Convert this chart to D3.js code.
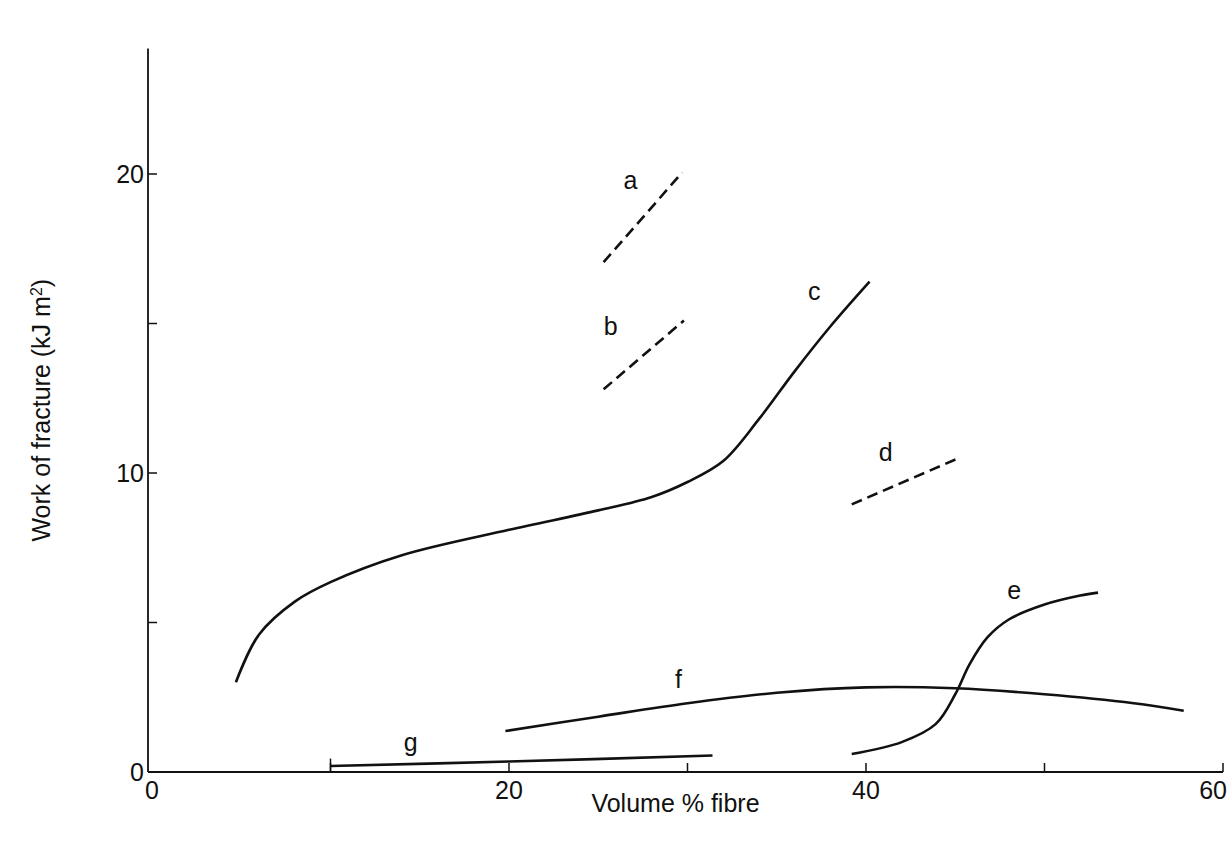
<!DOCTYPE html>
<html><head><meta charset="utf-8">
<script src="https://cdn.jsdelivr.net/npm/d3@7"></script>
<style>body{margin:0;background:#fff}text{font-family:"Liberation Sans",Arial,sans-serif;fill:#111}</style>
</head><body><svg id="c" width="1229" height="855"></svg>
<script>
const xTicks=[0,20,40,60];
const xMinor=[10,30,50];
const yTicks=[0,10,20];
const yMinor=[5,15];
const curveA=[[25.3,17.05],[29.7,20.05]];
const curveB=[[25.3,12.8],[29.8,15.1]];
const curveC=[[4.7,3.0],[6,4.6],[8,5.7],[10,6.35],[14,7.25],[20,8.1],[25,8.75],[28,9.2],[30,9.7],[32,10.4],[34,11.8],[36,13.4],[38,14.9],[40.2,16.4]];
const curveD=[[39.2,8.95],[45.2,10.5]];
const curveE=[[39.2,0.6],[42,1.0],[43.9,1.6],[45,2.6],[45.8,3.6],[46.8,4.5],[48,5.1],[50,5.6],[52,5.9],[53,6.0]];
const curveF=[[19.8,1.37],[25,1.85],[30,2.3],[35,2.65],[40,2.83],[45,2.8],[50,2.6],[55,2.3],[57.8,2.05]];
const curveG=[[10,0.2],[20,0.35],[31.4,0.55]];
const labels=[["a",26.8,19.5],["b",25.7,14.6],["c",37.1,15.8],["d",41.1,10.4],["e",48.3,5.8],["f",29.5,2.8],["g",14.5,0.7]];

const svg=d3.select("#c");
const x=d3.scaleLinear().domain([0,60]).range([152,1223]);
const y=d3.scaleLinear().domain([0,20]).range([772,174]);
const line=d3.line().x(d=>x(d[0])).y(d=>y(d[1])).curve(d3.curveCatmullRom.alpha(0.5));
const sw=2.6, fs=25;
svg.append("line").attr("x1",x(0)-4).attr("x2",x(0)-4).attr("y1",y(24.2)).attr("y2",y(0)).attr("stroke","#111").attr("stroke-width",1.8);
svg.append("line").attr("x1",x(0)-4).attr("x2",x(60)).attr("y1",y(0)).attr("y2",y(0)).attr("stroke","#111").attr("stroke-width",1.8);
yTicks.concat(yMinor).filter(v=>v>0).forEach(v=>svg.append("line").attr("x1",x(0)-4).attr("x2",x(0)+5).attr("y1",y(v)).attr("y2",y(v)).attr("stroke","#111").attr("stroke-width",1.5));
xTicks.concat(xMinor).filter(v=>v>0).forEach(v=>svg.append("line").attr("x1",x(v)).attr("x2",x(v)).attr("y1",y(0)).attr("y2",y(0)-9).attr("stroke","#111").attr("stroke-width",1.5));
xTicks.forEach(v=>svg.append("text").attr("x",v===60?1227:x(v)).attr("y",y(0)+27).attr("text-anchor",v===60?"end":"middle").attr("font-size",fs).text(v));
yTicks.forEach(v=>svg.append("text").attr("x",x(0)-8).attr("y",y(v)+9).attr("text-anchor","end").attr("font-size",fs).text(v));
svg.append("text").attr("x",x(30)-12).attr("y",812).attr("text-anchor","middle").attr("font-size",fs).text("Volume % fibre");
const yt=svg.append("text").attr("transform",`translate(50,${y(12.1)}) rotate(-90)`).attr("text-anchor","middle").attr("font-size",fs);
yt.append("tspan").text("Work of fracture (kJ m");
yt.append("tspan").attr("baseline-shift","super").attr("font-size",16).text("2");
yt.append("tspan").text(")");
[[curveA,true],[curveB,true],[curveC,false],[curveD,true],[curveE,false],[curveF,false],[curveG,false]].forEach(([d,dash])=>{
  svg.append("path").attr("d",line(d)).attr("fill","none").attr("stroke","#111").attr("stroke-width",sw).attr("stroke-dasharray",dash?"11,6":null);
});
svg.append("line").attr("x1",x(10)).attr("x2",x(10)).attr("y1",y(0)).attr("y2",y(0.45)).attr("stroke","#111").attr("stroke-width",1.5);
labels.forEach(([t,a,b])=>svg.append("text").attr("x",x(a)).attr("y",y(b)).attr("text-anchor","middle").attr("font-size",fs).text(t));
</script></body></html>
